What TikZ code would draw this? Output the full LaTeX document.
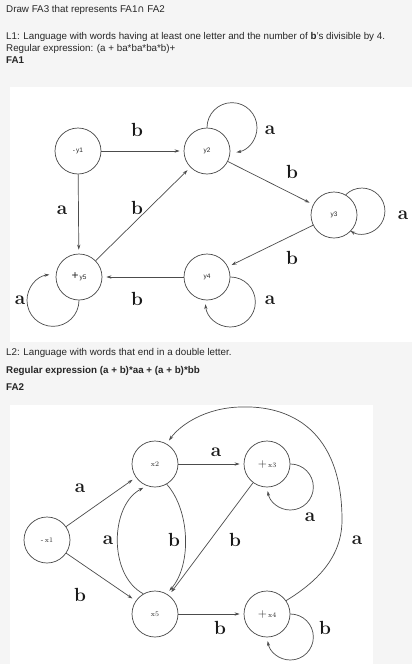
\documentclass[tikz,border=0pt]{standalone}
\usepackage{fontspec}
\newfontfamily\hdr{Liberation Sans}
\newfontfamily\symf{DejaVu Sans}
\usetikzlibrary{arrows.meta}
\begin{document}
\begin{tikzpicture}[x=1pt,y=-1pt,
  st/.style={circle,draw=black!72,line width=0.7pt,minimum size=46pt,inner sep=0pt,font=\hdr\fontsize{6.5}{7}\selectfont,text=black!85},
  xst/.style={st,font=\fontsize{7}{8}\selectfont},
  ed/.style={draw=black!70,line width=0.7pt,-{Stealth[length=5pt,width=3.2pt]},shorten >=4pt},
  lp/.style={draw=black!70,line width=0.7pt,-{Stealth[length=5pt,width=3.2pt]}},
  lb/.style={font=\bfseries\fontsize{19}{19}\selectfont,text=black!90,inner sep=0pt},
  tx/.style={anchor=west,font=\hdr\fontsize{9.8}{11}\selectfont,text=black!85,inner sep=0pt},
  txb/.style={tx,font=\hdr\bfseries\fontsize{9.8}{11}\selectfont}]
\useasboundingbox (0,0) rectangle (412,664);
\fill[black!4] (0,0) rectangle (412,664);
\fill[white] (10,87) rectangle (412,342);
\fill[white] (10,405) rectangle (373,664);
% texts
\node[tx] (t1) at (6,10) {Draw FA3 that represents FA1{\symf ∩} FA2};
\node[tx] (t2) at (6,37) {L1: Language with words having at least one letter and the number of \textbf{b}’s divisible by 4.};
\node[tx] (t3) at (6,49) {Regular expression: (a + ba*ba*ba*b)+};
\node[txb] (t4) at (6,60) {FA1};
\node[tx] (t5) at (6,353) {L2: Language with words that end in a double letter.};
\node[txb] (t6) at (6,371) {Regular expression (a + b)*aa + (a + b)*bb};
\node[txb] (t7) at (6,387) {FA2};
% FA1
\node[st] (y1) at (78,151) {-\,y1};
\node[st] (y2) at (207,151) {y2};
\node[st] (y3) at (334,215) {y3};
\node[st] (y4) at (207,277) {y4};
\node[st] (y5) at (79,277) {{\fontsize{12}{12}\selectfont +}\,y5};
\draw[ed] (y1) -- (y2);
\draw[ed] (y1) -- (y5);
\draw[ed] (y5) -- (y2);
\draw[ed] (y2) -- (y3);
\draw[ed] (y3) -- (y4);
\draw[ed] (y4) -- (y5);
\draw[lp] (y2.north) arc[start angle=180,end angle=440,radius=25];
\draw[lp] (y3.60) arc[start angle=225,end angle=480,radius=23];
\draw[lp] (y5.south) arc[start angle=0,end angle=262,radius=26];
\draw[lp] (y4.east) arc[start angle=270,end angle=535,radius=25];
\node[lb] (la1) at (137,130) {b};
\node[lb] (la2) at (270,130) {a};
\node[lb] (la3) at (292,172) {b};
\node[lb] (la4) at (62,210) {a};
\node[lb] (la5) at (137,208) {b};
\node[lb] (la6) at (403,215) {a};
\node[lb] (la7) at (292,258) {b};
\node[lb] (la8) at (20,300) {a};
\node[lb] (la9) at (137,299) {b};
\node[lb] (la10) at (270,300) {a};
% FA2
\node[xst] (x1) at (47,540) {-\,x1};
\node[xst] (x2) at (155,464) {x2};
\node[xst] (x3) at (267,464) {{\fontsize{12}{12}\selectfont +}\,x3};
\node[xst] (x5) at (155,614) {x5};
\node[xst] (x4) at (267,614) {{\fontsize{12}{12}\selectfont +}\,x4};
\draw[ed] (x1) -- (x2);
\draw[ed] (x1) -- (x5);
\draw[ed] (x2) -- (x3);
\draw[ed] (x5) -- (x4);
\draw[ed] (x3) -- (x5);
\draw[ed] (x2.-60) .. controls (190,510) and (192,565) .. (x5.60);
\draw[ed] (x5.120) .. controls (108,575) and (110,505) .. (x2.-110);
\draw[ed] (x4.35) .. controls (320,580) and (342,555) .. (342,520) .. controls (342,430) and (290,405) .. (240,407) .. controls (205,408) and (180,425) .. (x2.60);
\draw[lp] (x3.east) arc[start angle=270,end angle=530,radius=23];
\draw[lp] (x4.east) arc[start angle=270,end angle=530,radius=23];
\node[lb] (lb1) at (80,488) {a};
\node[lb] (lb2) at (80,595) {b};
\node[lb] (lb3) at (216,452) {a};
\node[lb] (lb4) at (108,540) {a};
\node[lb] (lb5) at (174,540) {b};
\node[lb] (lb6) at (235,540) {b};
\node[lb] (lb7) at (310,517) {a};
\node[lb] (lb8) at (357,540) {a};
\node[lb] (lb9) at (220,628) {b};
\node[lb] (lb10) at (325,628) {b};
\end{tikzpicture}
\end{document}
